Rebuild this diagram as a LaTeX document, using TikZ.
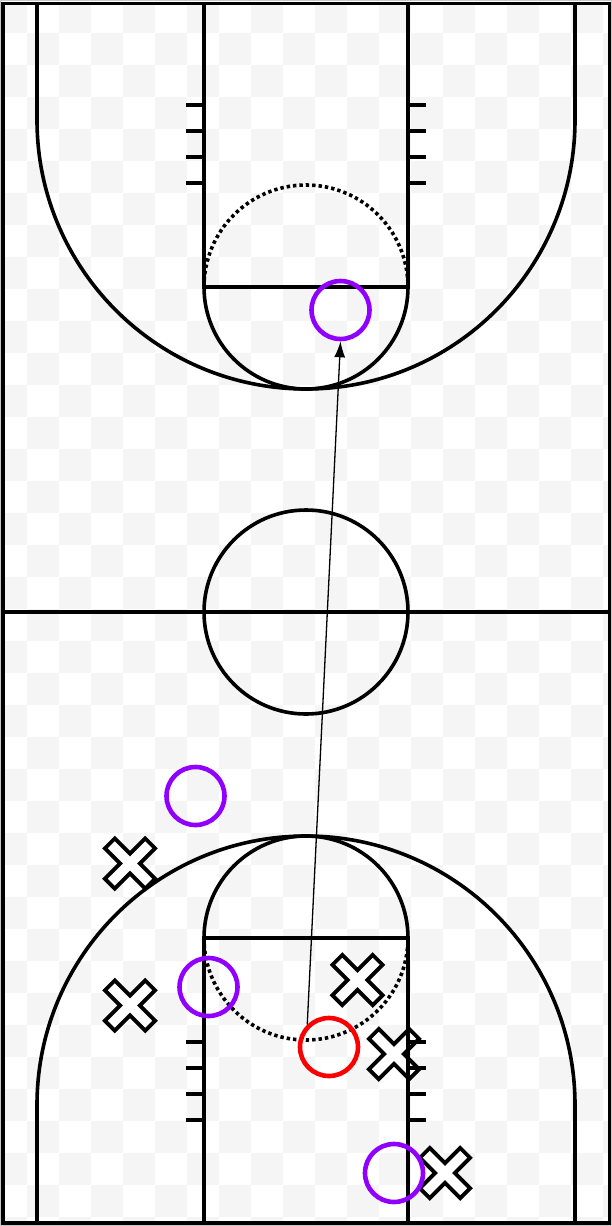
\documentclass[tikz,border=0pt]{standalone}
\usetikzlibrary{arrows.meta}
\definecolor{offpurple}{RGB}{145,0,255}
\definecolor{ballred}{RGB}{250,0,0}
\definecolor{checkgray}{RGB}{245,245,245}
\definecolor{edgegray}{RGB}{200,200,200}
\begin{document}
\begin{tikzpicture}[x=1pt,y=-1pt,
  court/.style={line width=3.6pt, black},
  dotline/.style={line width=3.6pt, black, dash pattern=on 3.4pt off 3pt},
  offense/.style={circle, draw=offpurple, line width=4.6pt, minimum size=58pt, inner sep=0pt},
  ballhandler/.style={offense, draw=ballred},
  pass/.style={line width=1.3pt, black, -{Latex[length=16pt,width=11pt]}},
  xmark/.pic={\draw[line width=3.8pt, fill=white, rotate=45, line join=miter]
     (7,28.5) -- (7,7) -- (28.5,7) -- (28.5,-7) -- (7,-7) -- (7,-28.5) -- (-7,-28.5) -- (-7,-7)
     -- (-28.5,-7) -- (-28.5,7) -- (-7,7) -- (-7,28.5) -- cycle;}
]
\useasboundingbox (0,0) rectangle (612,1226);
% background
\fill[edgegray] (0,0) rectangle (612,1226);
\fill[white] (1.2,1.2) rectangle (610.8,1224.8);
\begin{scope}
  \clip (2.7,3.3) rectangle (609.5,1222.6);
  \foreach \j in {-1,...,38}{
    \pgfmathtruncatemacro\s{mod(\j+2,2)}
    \foreach \i in {0,2,...,20}{
      \fill[checkgray] ({-5.5+32*(\i+\s)},{1.2+32*\j}) rectangle +(32,32);
    }
  }
\end{scope}
% defenders
\pic (xa) at (130,863.5) {xmark};
\pic (xb) at (130,1005.5) {xmark};
\pic (xc) at (357.5,980) {xmark};
\pic (xd) at (394,1054) {xmark};
\pic (xe) at (445,1173) {xmark};
% court
\draw[court, line width=3.8pt] (2.9,3.4) rectangle (609.4,1222.6);
\draw[court] (2.9,612) -- (609.4,612);
\draw[court] (306,612) circle[radius=102];
% top half
\draw[court] (37,3.4) -- (37,120) arc[start angle=180, end angle=0, radius=269] -- (575,3.4);
\draw[court] (204,3.4) -- (204,287) -- (408,287) -- (408,3.4);
\draw[court] (204,287) arc[start angle=180, end angle=0, radius=102];
\draw[dotline] (204,287) arc[start angle=180, end angle=360, radius=102];
\foreach \y in {105,131,157,183}{
  \draw[court] (186,\y) -- (204,\y);
  \draw[court] (408,\y) -- (426,\y);
}
% bottom half
\draw[court] (37,1222.6) -- (37,1105) arc[start angle=180, end angle=360, radius=269] -- (575,1222.6);
\draw[court] (204,1222.6) -- (204,938) -- (408,938) -- (408,1222.6);
\draw[court] (204,938) arc[start angle=180, end angle=360, radius=102];
\draw[dotline] (204,938) arc[start angle=180, end angle=0, radius=102];
\foreach \y in {1042,1068,1094,1120}{
  \draw[court] (186,\y) -- (204,\y);
  \draw[court] (408,\y) -- (426,\y);
}
% offense
\node[offense] (p1) at (340.5,310) {};
\node[offense] (p2) at (195.5,796) {};
\node[offense] (p3) at (208.5,987) {};
\node[offense] (p4) at (394,1173) {};
\node[ballhandler] (bh) at (329,1047) {};
% pass
\draw[pass] (bh.134) -- (p1.south);
\end{tikzpicture}
\end{document}
